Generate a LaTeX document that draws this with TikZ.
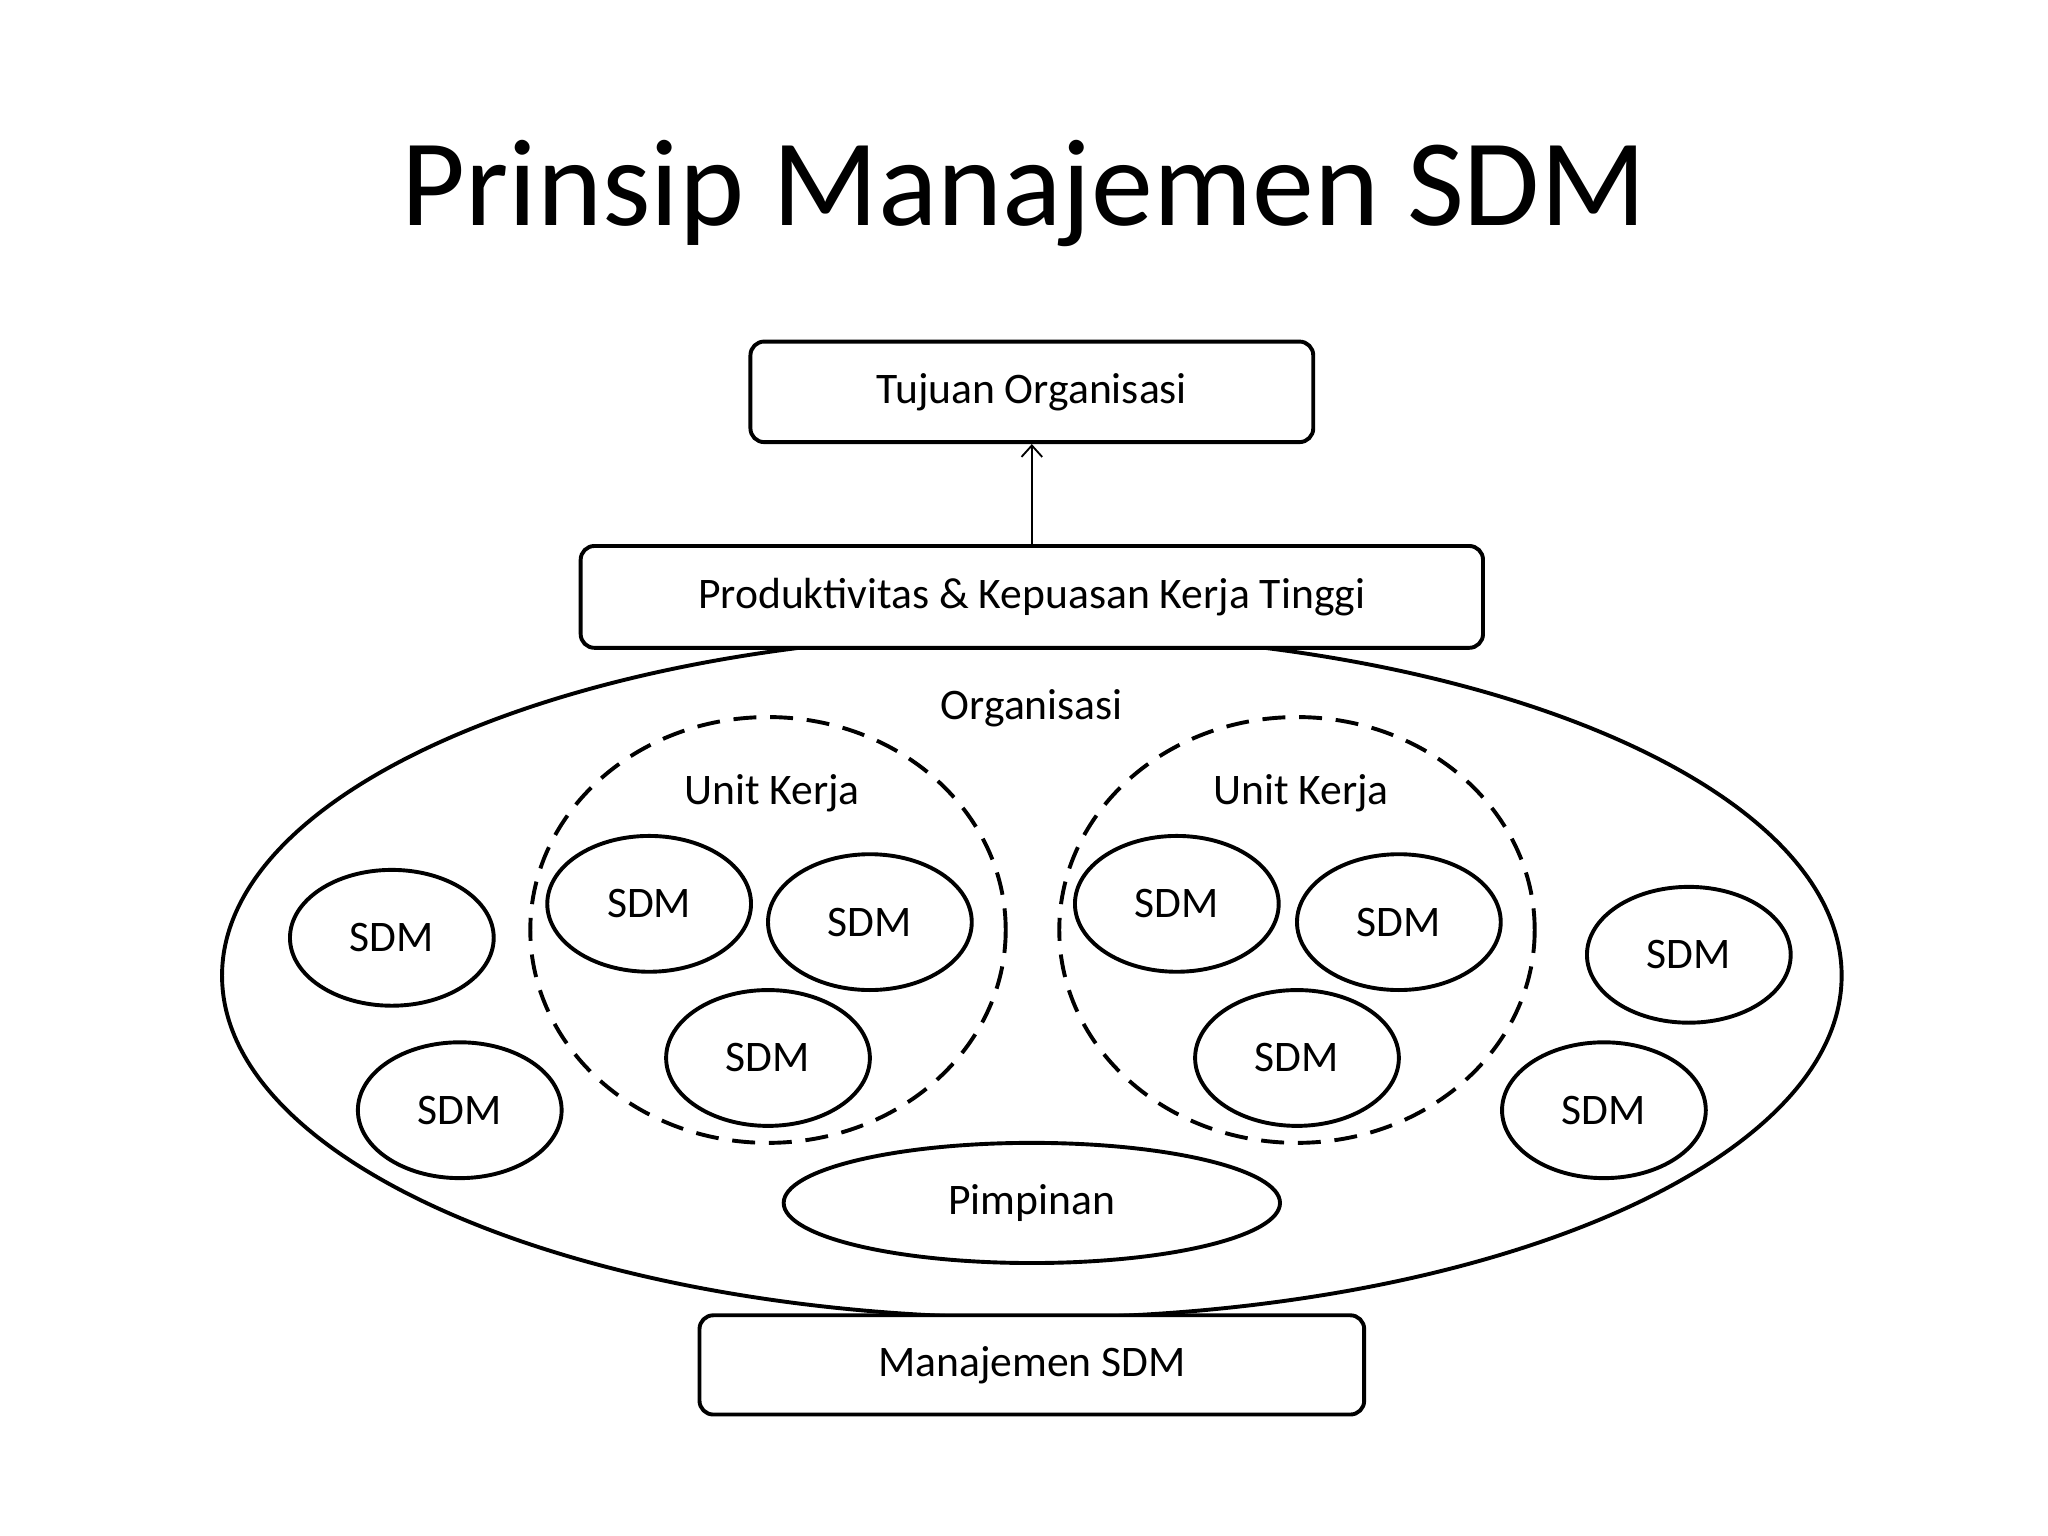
\documentclass[tikz,border=0pt]{standalone}
\usepackage{fontspec}
\setmainfont{Carlito}
\usetikzlibrary{shapes.geometric,arrows.meta}
\begin{document}
\begin{tikzpicture}[x=0.02cm,y=-0.02cm,
  box/.style={draw,line width=1.7pt,rounded corners=6pt,font=\fontsize{19}{22}\selectfont,fill=white},
  sdm/.style={draw,ellipse,line width=1.7pt,minimum width=156\pgflinewidth,font=\fontsize{19}{22}\selectfont},
  lbl/.style={font=\fontsize{19}{22}\selectfont}]
\useasboundingbox (0,0) rectangle (1568,1176);
\node[font=\fontsize{54}{60}\selectfont] (title) at (784,148) {Prinsip Manajemen SDM};
\draw[line width=1.7pt] (790,747) ellipse [x radius=620, y radius=262];
\draw[line width=1.7pt,dashed,dash pattern=on 10pt off 6pt] (588,712) ellipse [x radius=182, y radius=163];
\draw[line width=1.7pt,dashed,dash pattern=on 10pt off 6pt] (993,712) ellipse [x radius=182, y radius=163];
\node[box,minimum width=8.62cm,minimum height=1.54cm] (tuj) at (790,300) {Tujuan Organisasi};
\node[box,minimum width=13.82cm,minimum height=1.56cm] (prod) at (790,457) {Produktivitas \& Kepuasan Kerja Tinggi};
\node[box,minimum width=10.18cm,minimum height=1.52cm] (man) at (790,1045) {Manajemen SDM};
\draw[-{Straight Barb[length=5pt,width=9pt]},line width=0.8pt] (prod.north) -- (tuj.south);
\node[lbl] (org) at (790,542) {Organisasi};
\node[lbl] (uk1) at (591,607) {Unit Kerja};
\node[lbl] (uk2) at (996,607) {Unit Kerja};
\foreach \n/\x/\y in {a/300/718,b/352/850,c/497/692,d/666/706,e/588/810,f/901/692,g/1071/706,h/993/810,i/1293/731,j/1228/850}
  \draw[line width=1.7pt] (\x,\y) ellipse [x radius=78, y radius=52] node[lbl] (\n) {SDM};
\draw[line width=1.7pt] (790,921) ellipse [x radius=190, y radius=46] node[lbl] (pim) {Pimpinan};
\end{tikzpicture}
\end{document}
